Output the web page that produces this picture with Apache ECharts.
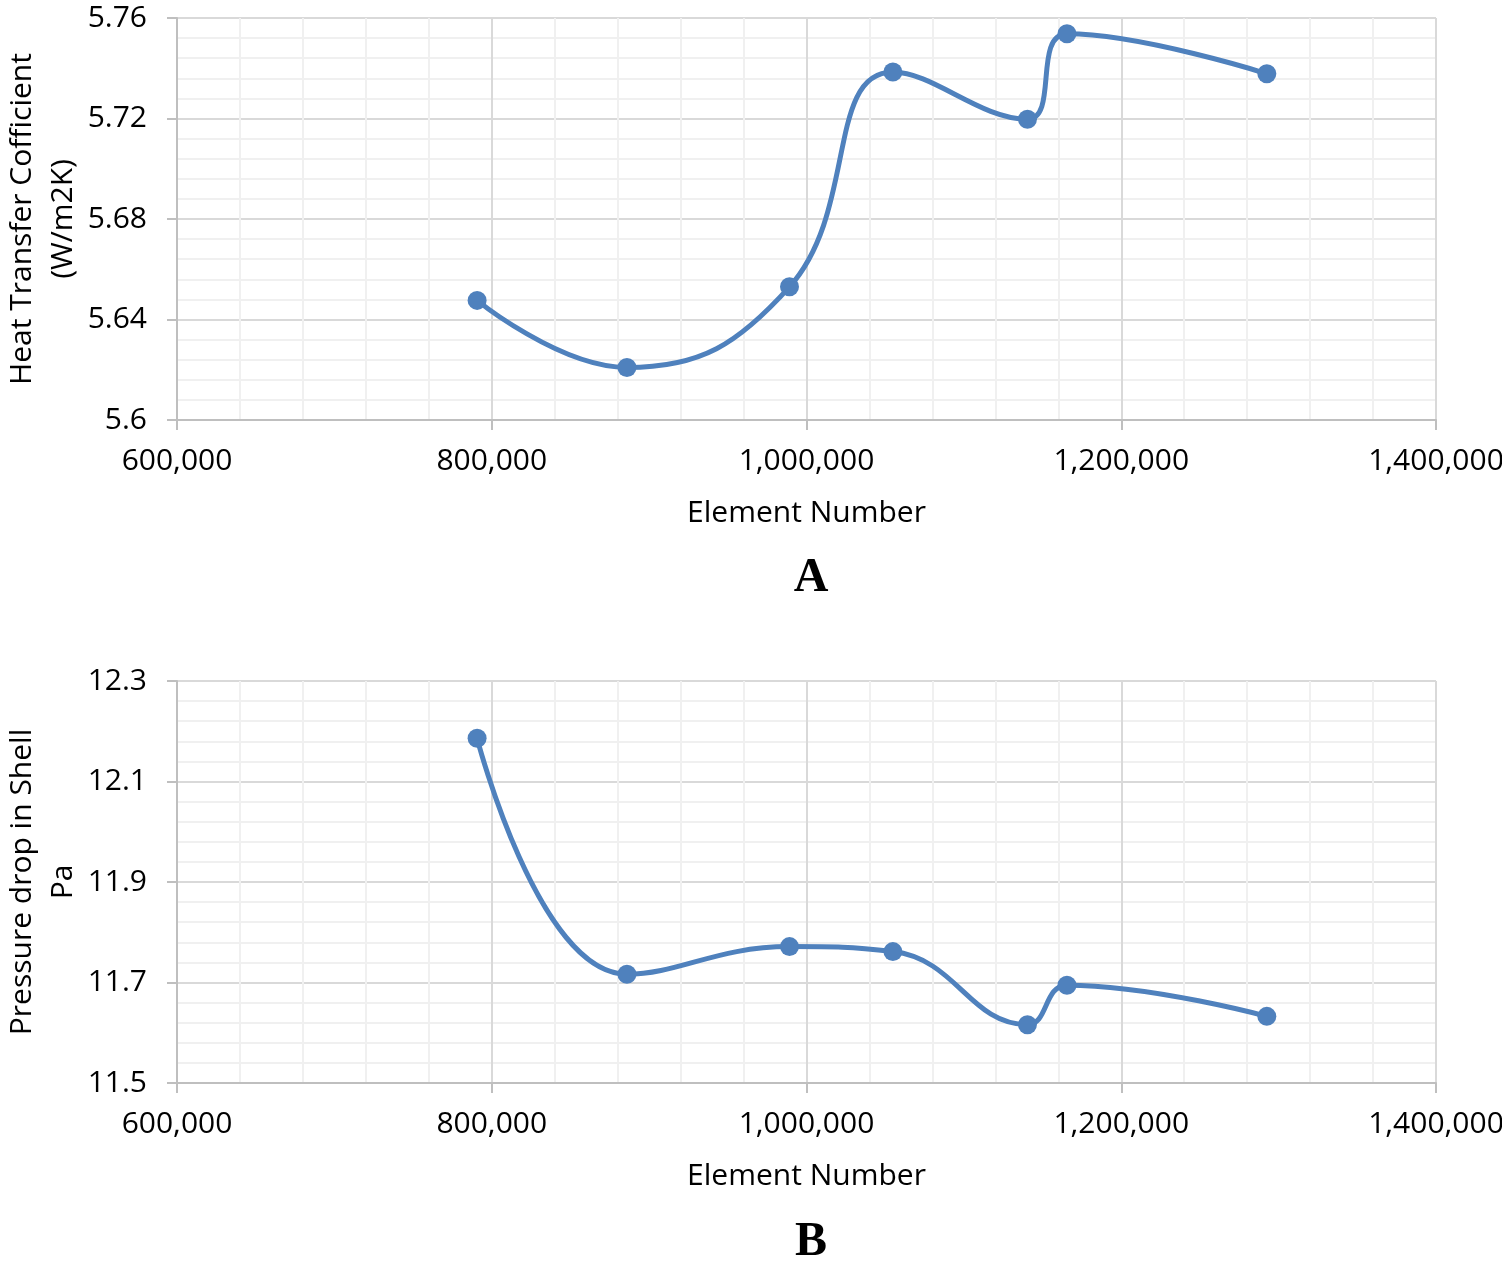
<!DOCTYPE html>
<html>
<head>
<meta charset="utf-8">
<script src="https://cdn.jsdelivr.net/npm/echarts@6/dist/echarts.min.js"></script>
<style>
  html, body { margin: 0; padding: 0; background: #fff; }
  #chart { width: 1502px; height: 1274px; }
</style>
</head>
<body>
<div id="chart"></div>
<script>
// element counts (x) shared by both panels
const elements = [790700, 885900, 989200, 1054900, 1140400, 1165500, 1292500];
// panel A: heat transfer coefficient
const htc = [5.6476, 5.6209, 5.6530, 5.7385, 5.7197, 5.7537, 5.7378];
// panel B: pressure drop in shell
const dp = [12.186, 11.7165, 11.7714, 11.7615, 11.616, 11.6947, 11.6326];

const FONT = '"Open Sans", "Noto Sans", sans-serif';
const BLUE = '#4f81bd';

const chart = echarts.init(document.getElementById('chart'), null, { renderer: 'canvas' });

function xAxisFor(gridIndex) {
  return {
    type: 'value',
    gridIndex,
    min: 600000,
    max: 1400000,
    interval: 200000,
    name: 'Element Number',
    nameLocation: 'middle',
    nameGap: 78,
    nameTextStyle: { color: '#000', fontFamily: FONT, fontSize: 30 },
    axisLine: { show: true, lineStyle: { color: '#bfbfbf', width: 2 } },
    axisTick: { show: true, length: 10, lineStyle: { color: '#bfbfbf', width: 2 } },
    axisLabel: {
      color: '#000', fontFamily: FONT, fontSize: 30, margin: 26,
      formatter: (v) => v.toLocaleString('en-US')
    },
    splitLine: { show: true, lineStyle: { color: '#d9d9d9', width: 2 } },
    minorTick: { show: false, splitNumber: 5 },
    minorSplitLine: { show: true, lineStyle: { color: '#f0f0f0', width: 2 } }
  };
}

function yAxisFor(gridIndex, min, max, interval, name) {
  return {
    type: 'value',
    gridIndex,
    min, max, interval,
    name,
    nameLocation: 'middle',
    nameRotate: 90,
    nameGap: 93,
    nameMoveOverlap: false,
    nameTextStyle: { color: '#000', fontFamily: FONT, fontSize: 30, lineHeight: 41 },
    axisLine: { show: true, lineStyle: { color: '#bfbfbf', width: 2 } },
    axisTick: { show: true, length: 10, lineStyle: { color: '#bfbfbf', width: 2 } },
    axisLabel: { color: '#000', fontFamily: FONT, fontSize: 30, margin: 30 },
    splitLine: { show: true, lineStyle: { color: '#d9d9d9', width: 2 } },
    minorTick: { show: false, splitNumber: 5 },
    minorSplitLine: { show: true, lineStyle: { color: '#f0f0f0', width: 2 } }
  };
}

function lineSeries(idx, values) {
  return {
    type: 'line',
    xAxisIndex: idx,
    yAxisIndex: idx,
    data: elements.map((x, i) => [x, values[i]]),
    smooth: 0.45,
    symbol: 'circle',
    symbolSize: 19,
    lineStyle: { color: BLUE, width: 5 },
    itemStyle: { color: BLUE },
    animation: false
  };
}

chart.setOption({
  animation: false,
  backgroundColor: '#fff',
  grid: [
    { left: 177, right: 66, top: 18, height: 402, outerBoundsMode: 'none', containLabel: false },
    { left: 177, right: 66, top: 681, height: 402, outerBoundsMode: 'none', containLabel: false }
  ],
  xAxis: [xAxisFor(0), xAxisFor(1)],
  yAxis: [
    yAxisFor(0, 5.6, 5.76, 0.04, 'Heat Transfer Cofficient\n(W/m2K)'),
    yAxisFor(1, 11.5, 12.3, 0.2, 'Pressure drop in Shell\nPa')
  ],
  series: [lineSeries(0, htc), lineSeries(1, dp)],
  graphic: [
    {
      type: 'text', x: 811, y: 579,
      style: { text: 'A', font: 'bold 48px "Liberation Serif", serif', fill: '#000',
        textAlign: 'center', textVerticalAlign: 'middle' }
    },
    {
      type: 'text', x: 811, y: 1243,
      style: { text: 'B', font: 'bold 48px "Liberation Serif", serif', fill: '#000',
        textAlign: 'center', textVerticalAlign: 'middle' }
    }
  ]
});
</script>
</body>
</html>
